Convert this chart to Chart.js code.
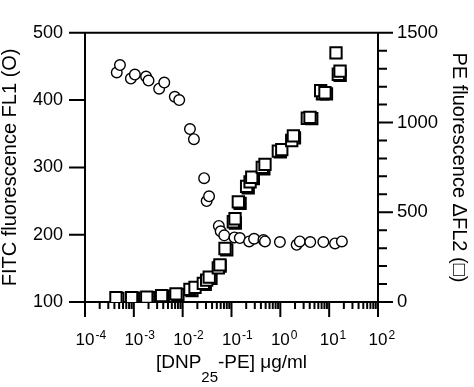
<!DOCTYPE html>
<html>
<head>
<meta charset="utf-8">
<script src="https://cdn.jsdelivr.net/npm/chart.js@4/dist/chart.umd.min.js"></script>
<style>
  html, body { margin: 0; padding: 0; background: #fff; }
  #wrap { width: 474px; height: 387px; position: relative; }
</style>
</head>
<body>
<div id="wrap"><canvas id="c" width="474" height="387"></canvas></div>
<script>
// ---- data ----
// FITC fluorescence FL1 (circles, left axis)
const fitcConc = [4.47e-4, 5.2e-4, 8.7e-4, 1.05e-3, 1.78e-3, 2.0e-3, 3.3e-3, 4.2e-3, 6.9e-3, 8.5e-3,
                  0.0141, 0.017, 0.0275, 0.031, 0.0347, 0.055, 0.060, 0.071, 0.115, 0.148,
                  0.23, 0.29, 0.45, 0.485, 0.98, 2.16, 2.5, 4.1, 7.6, 13.2, 18.2];
const fitcFL1 = [441, 452, 432, 438, 435, 429, 417, 426, 405, 400,
                 357, 342, 284, 250, 257, 213, 205, 199, 196, 195,
                 190, 194, 192, 190, 189, 185, 190, 189, 189, 187, 190];
// PE fluorescence dFL2 (squares, right axis) - replicate A
const peConcA = [4.3e-4, 9.0e-4, 1.84e-3, 3.7e-3, 7.3e-3, 0.0141, 0.0179, 0.0265, 0.031, 0.035,
                 0.0537, 0.058, 0.0736, 0.109, 0.118, 0.138, 0.204, 0.24, 0.26, 0.427,
                 0.485, 0.91, 1.07, 1.71, 1.85, 3.57, 4.05, 6.7, 8.2, 15.4, 16.7, 13.8];
const peFL2A = [24, 24, 27, 36, 45, 70, 82, 104, 122, 139,
                190, 207, 298, 447, 464, 558, 644, 669, 695, 750,
                767, 841, 849, 900, 926, 1024, 1029, 1178, 1166, 1269, 1286, 1388];
// replicate B (partly hidden behind A)
const peConcB = [4.7e-4, 9.8e-4, 2.0e-3, 4.0e-3, 8.0e-3, 0.0155, 0.029, 0.038, 0.0585, 0.08,
                 0.12, 0.15, 0.22, 0.28, 0.46, 1.0, 1.95, 4.4, 7.3, 8.8, 16.8];
const peFL2B = [20, 21, 24, 33, 41, 64, 98, 132, 200, 290,
                440, 550, 636, 688, 742, 836, 915, 1022, 1160, 1160, 1263];
// tick labels
const xTickValues = [1e-4, 1e-3, 1e-2, 1e-1, 1e0, 1e1, 1e2];
const xTickBase = '10';
const xTickExponents = ['-4', '-3', '-2', '-1', '0', '1', '2'];
const yLeftTicks = [100, 200, 300, 400, 500];
const yRightTicks = [0, 500, 1000, 1500];
// axis title parts
const xTitleParts = ['[DNP', '25', '-PE] \u03BCg/ml'];

const FONT = "'Liberation Sans', Arial, Helvetica, sans-serif";

const toPts = (xs, ys) => xs.map((x, i) => ({x: x, y: ys[i]}));

const frameTicks = {
  id: 'frameTicks',
  afterDraw(chart) {
    const ctx = chart.ctx;
    const {left, right, top, bottom} = chart.chartArea;
    const xs = chart.scales.x, yl = chart.scales.y, yr = chart.scales.y2;
    ctx.save();
    ctx.strokeStyle = '#000';
    ctx.lineWidth = 2;
    ctx.beginPath();
    ctx.moveTo(left - 1, top); ctx.lineTo(right + 1, top);
    // x ticks (major + minor)
    for (let e = -4; e <= 2; e++) {
      const px = xs.getPixelForValue(Math.pow(10, e));
      ctx.moveTo(px, bottom); ctx.lineTo(px, bottom + 15);
      if (e < 2) {
        for (let m = 2; m <= 9; m++) {
          const p = xs.getPixelForValue(m * Math.pow(10, e));
          ctx.moveTo(p, bottom); ctx.lineTo(p, bottom + 7);
        }
      }
    }
    // left ticks
    yLeftTicks.forEach(v => {
      const py = yl.getPixelForValue(v);
      ctx.moveTo(left - 16, py); ctx.lineTo(left, py);
    });
    // right ticks (major every 500, minor every 100)
    for (let v = 0; v <= 1500; v += 100) {
      const py = yr.getPixelForValue(v);
      ctx.moveTo(right, py); ctx.lineTo(right + (v % 500 === 0 ? 15 : 9), py);
    }
    ctx.stroke();

    // exponents of the x tick labels
    ctx.fillStyle = '#000';
    ctx.textBaseline = 'alphabetic';
    ctx.font = '17px ' + FONT;
    const baseHalf = ctx.measureText(xTickBase).width / 2;
    ctx.font = '12px ' + FONT;
    ctx.textAlign = 'left';
    xTickValues.forEach((v, i) => {
      const px = xs.getPixelForValue(v);
      ctx.fillText(xTickExponents[i], px + baseHalf + 1, 338.5);
    });

    // x axis title with subscript
    const mainF = '19px ' + FONT, subF = '15px ' + FONT;
    ctx.font = mainF; const w0 = ctx.measureText(xTitleParts[0]).width;
    ctx.font = subF;  const w1 = ctx.measureText(xTitleParts[1]).width;
    ctx.font = mainF; const w2 = ctx.measureText(xTitleParts[2]).width;
    let x0 = (left + right) / 2 - (w0 + w1 + w2) / 2;
    ctx.font = mainF; ctx.fillText(xTitleParts[0], x0, 367.5); x0 += w0;
    ctx.font = subF;  ctx.fillText(xTitleParts[1], x0, 382); x0 += w1;
    ctx.font = mainF; ctx.fillText(xTitleParts[2], x0, 367.5);
    ctx.restore();
  }
};

new Chart(document.getElementById('c'), {
  type: 'scatter',
  data: {
    datasets: [
      {
        label: 'PE fluorescence \u0394FL2',
        data: toPts(peConcA, peFL2A),
        yAxisID: 'y2',
        pointStyle: 'rect',
        pointRadius: 8,
        pointBorderWidth: 2,
        backgroundColor: '#fff',
        borderColor: '#000',
        order: 1
      },
      {
        label: 'PE fluorescence \u0394FL2 (replicate)',
        data: toPts(peConcB, peFL2B),
        yAxisID: 'y2',
        pointStyle: 'rect',
        pointRadius: 8,
        pointBorderWidth: 2,
        backgroundColor: '#fff',
        borderColor: '#000',
        order: 2
      },
      {
        label: 'FITC fluorescence FL1',
        data: toPts(fitcConc, fitcFL1),
        yAxisID: 'y',
        pointStyle: 'circle',
        pointRadius: 5.3,
        pointBorderWidth: 1.4,
        backgroundColor: '#fff',
        borderColor: '#000',
        order: 3
      }
    ]
  },
  options: {
    responsive: false,
    animation: false,
    events: [],
    layout: { padding: { top: 10, left: 0, right: 0, bottom: 0 } },
    plugins: { legend: { display: false }, tooltip: { enabled: false } },
    scales: {
      x: {
        type: 'logarithmic',
        position: 'bottom',
        min: 1e-4, max: 1e2,
        afterBuildTicks: s => { s.ticks = xTickValues.map(v => ({value: v})); },
        afterFit: s => { s.height = 85; },
        grid: { display: false, drawTicks: false },
        border: { display: true, color: '#000', width: 2 },
        ticks: {
          autoSkip: false, maxRotation: 0, padding: 28,
          color: '#000',
          font: { family: FONT, size: 17 },
          callback: () => xTickBase
        },
        title: { display: false }
      },
      y: {
        type: 'linear',
        position: 'left',
        min: 100, max: 500,
        afterBuildTicks: s => { s.ticks = yLeftTicks.map(v => ({value: v})); },
        afterFit: s => { s.width = 85; },
        grid: { display: false, drawTicks: false },
        border: { display: true, color: '#000', width: 2 },
        ticks: {
          padding: 22, color: '#000',
          font: { family: FONT, size: 18 },
          callback: v => String(v)
        },
        title: {
          display: true,
          text: 'FITC fluorescence FL1 (O)',
          color: '#000',
          font: { family: FONT, size: 20 },
          padding: { top: -1.5, bottom: 0 }
        }
      },
      y2: {
        type: 'linear',
        position: 'right',
        min: 0, max: 1500,
        afterBuildTicks: s => { s.ticks = yRightTicks.map(v => ({value: v})); },
        afterFit: s => { s.width = 96; },
        grid: { display: false, drawTicks: false },
        border: { display: true, color: '#000', width: 2 },
        ticks: {
          padding: 19, color: '#000',
          font: { family: FONT, size: 18.5 },
          callback: v => String(v)
        },
        title: {
          display: true,
          text: 'PE fluorescence \u0394FL2 (\u25A1)',
          color: '#000',
          font: { family: FONT, size: 20 },
          padding: { top: 3.5, bottom: 0 }
        }
      }
    }
  },
  plugins: [frameTicks]
});
</script>
</body>
</html>
